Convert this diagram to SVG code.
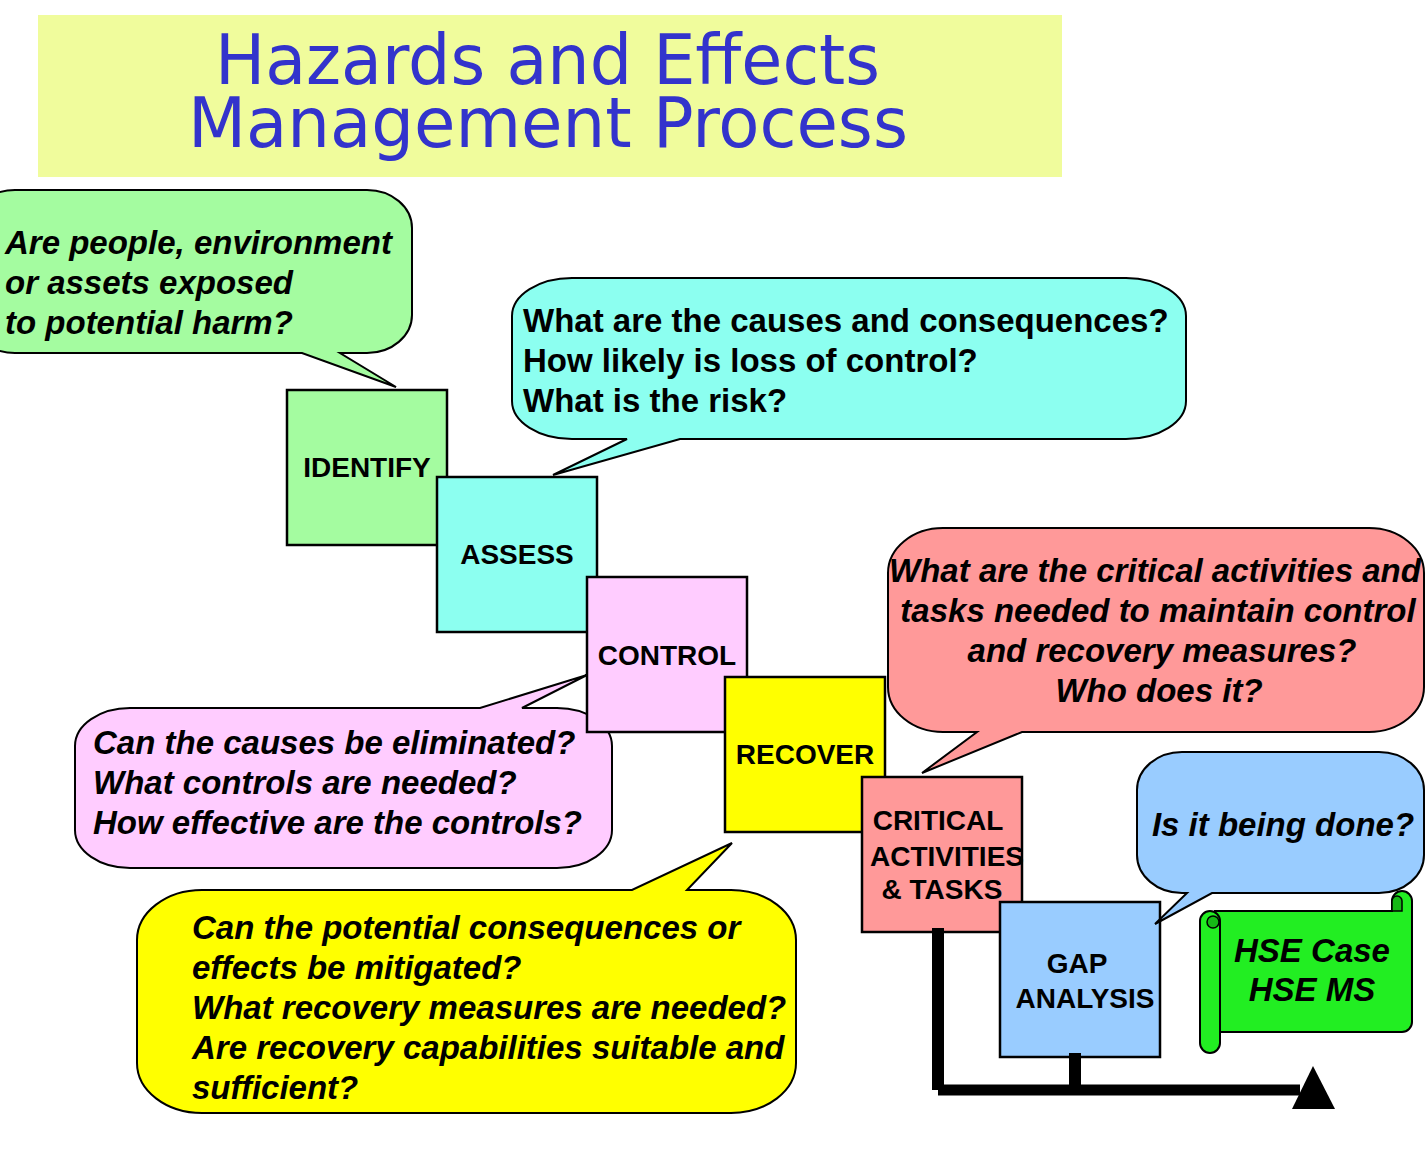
<svg xmlns="http://www.w3.org/2000/svg" width="1428" height="1153" viewBox="0 0 1428 1153">
<style>
.title{font-family:"DejaVu Sans Condensed","DejaVu Sans",sans-serif;font-size:70px;fill:#3333CC}
.box{stroke:#000;stroke-width:2.5}
.call{stroke:#000;stroke-width:2;stroke-linejoin:miter}
.lbl{font-family:"Liberation Sans",Arial,sans-serif;font-weight:bold;font-size:28px;fill:#000;text-anchor:middle}
.q{font-family:"Liberation Sans",Arial,sans-serif;font-weight:bold;font-style:italic;font-size:33px;fill:#000}
.qn{font-family:"Liberation Sans",Arial,sans-serif;font-weight:bold;font-size:33px;fill:#000}
.mid{text-anchor:middle}
.conn{stroke:#000;fill:none}
</style>
<rect width="1428" height="1153" fill="#fff"/>
<g id="title">
<rect x="38" y="15" width="1024" height="162" fill="#F0FC9C"/>
<text class="title" x="215" y="84" textLength="665" lengthAdjust="spacingAndGlyphs">Hazards and Effects</text>
<text class="title" x="188" y="147" textLength="720" lengthAdjust="spacingAndGlyphs">Management Process</text>
</g>
<g id="callout-identify">
<path class="call" fill="#A4FCA0" d="M15,190 H367 A45,38 0 0 1 412,228 V315 A45,38 0 0 1 367,353 H340 L396,387 L302,353 H15 A45,38 0 0 1 -30,315 V228 A45,38 0 0 1 15,190 Z"/>
<text class="q" x="5" y="254">Are people, environment</text>
<text class="q" x="5" y="294">or assets exposed</text>
<text class="q" x="5" y="334">to potential harm?</text>
</g>
<g id="callout-assess">
<path class="call" fill="#8CFFF0" d="M572,278 H1126 A60,38 0 0 1 1186,316 V401 A60,38 0 0 1 1126,439 H680 L553,475 L627,439 H572 A60,38 0 0 1 512,401 V316 A60,38 0 0 1 572,278 Z"/>
<text class="qn" x="523" y="332">What are the causes and consequences?</text>
<text class="qn" x="523" y="372">How likely is loss of control?</text>
<text class="qn" x="523" y="412">What is the risk?</text>
</g>
<g id="identify">
<rect class="box" x="287" y="390" width="160" height="155" fill="#A4FCA0"/>
<text class="lbl" x="367" y="477">IDENTIFY</text>
</g>
<g id="assess">
<rect class="box" x="437" y="477" width="160" height="155" fill="#8CFFF0"/>
<text class="lbl" x="517" y="564">ASSESS</text>
</g>
<g id="callout-control">
<path class="call" fill="#FFCCFF" d="M130,708 H480 L587,675 L522,708 H557 A55,38 0 0 1 612,746 V830 A55,38 0 0 1 557,868 H130 A55,38 0 0 1 75,830 V746 A55,38 0 0 1 130,708 Z"/>
<text class="q" x="93" y="754">Can the causes be eliminated?</text>
<text class="q" x="93" y="794">What controls are needed?</text>
<text class="q" x="93" y="834">How effective are the controls?</text>
</g>
<g id="control">
<rect class="box" x="587" y="577" width="160" height="155" fill="#FFCCFF"/>
<text class="lbl" x="667" y="665">CONTROL</text>
</g>
<g id="recover">
<rect class="box" x="725" y="677" width="160" height="155" fill="#FFFF00"/>
<text class="lbl" x="805" y="764">RECOVER</text>
</g>
<g id="callout-recover">
<path class="call" fill="#FFFF00" d="M202,890 H632 L732,843 L687,890 H731 A65,50 0 0 1 796,940 V1063 A65,50 0 0 1 731,1113 H202 A65,50 0 0 1 137,1063 V940 A65,50 0 0 1 202,890 Z"/>
<text class="q" x="192" y="939">Can the potential consequences or</text>
<text class="q" x="192" y="979">effects be mitigated?</text>
<text class="q" x="192" y="1019">What recovery measures are needed?</text>
<text class="q" x="192" y="1059">Are recovery capabilities suitable and</text>
<text class="q" x="192" y="1099">sufficient?</text>
</g>
<g id="callout-critical">
<path class="call" fill="#FF9999" d="M943,528 H1369 A55,45 0 0 1 1424,573 V687 A55,45 0 0 1 1369,732 H1022 L922,773 L977,732 H943 A55,45 0 0 1 888,687 V573 A55,45 0 0 1 943,528 Z"/>
<text class="q mid" x="1155" y="582">What are the critical activities and</text>
<text class="q mid" x="1158" y="622">tasks needed to maintain control</text>
<text class="q mid" x="1162" y="662">and recovery measures?</text>
<text class="q mid" x="1159" y="702">Who does it?</text>
</g>
<g id="critical">
<rect class="box" x="862" y="777" width="160" height="155" fill="#FF9999"/>
<text class="lbl" x="938" y="830">CRITICAL</text>
<text class="lbl" x="947" y="866">ACTIVITIES</text>
<text class="lbl" x="942" y="899">&amp; TASKS</text>
</g>
<g id="gap">
<rect class="box" x="1000" y="902" width="160" height="155" fill="#99CCFF"/>
<text class="lbl" x="1077" y="973">GAP</text>
<text class="lbl" x="1085" y="1008">ANALYSIS</text>
</g>
<g id="callout-gap">
<path class="call" fill="#99CCFF" d="M1182,752 H1379 A45,38 0 0 1 1424,790 V855 A45,38 0 0 1 1379,893 H1212 L1155,924 L1187,893 H1182 A45,38 0 0 1 1137,855 V790 A45,38 0 0 1 1182,752 Z"/>
<text class="q mid" x="1283" y="836">Is it being done?</text>
</g>
<g id="hse">
<path class="call" fill="#22EE22" d="M1215,911 H1392 V901 A10,10 0 0 1 1412,901 V1022 A10,10 0 0 1 1402,1032 H1220 Z"/>
<path fill="#16B816" stroke="#000" stroke-width="1.5" d="M1402,911 V901 A5,5 0 0 0 1392,901 V911 Z"/>
<path class="call" fill="#22EE22" d="M1200,921 A10,10 0 0 1 1220,921 V1043 A10,10 0 0 1 1200,1043 Z"/>
<circle cx="1213" cy="922" r="6" fill="#16B816" stroke="#000" stroke-width="1.5"/>
<text class="q mid" x="1312" y="962">HSE Case</text>
<text class="q mid" x="1312" y="1001">HSE MS</text>
</g>
<g id="connectors">
<line class="conn" x1="938" y1="928" x2="938" y2="1090" stroke-width="12"/>
<line class="conn" x1="938" y1="1090" x2="1300" y2="1090" stroke-width="11"/>
<line class="conn" x1="1075" y1="1053" x2="1075" y2="1090" stroke-width="12"/>
<polygon points="1292,1109 1335,1109 1313,1066" fill="#000"/>
</g>
</svg>
